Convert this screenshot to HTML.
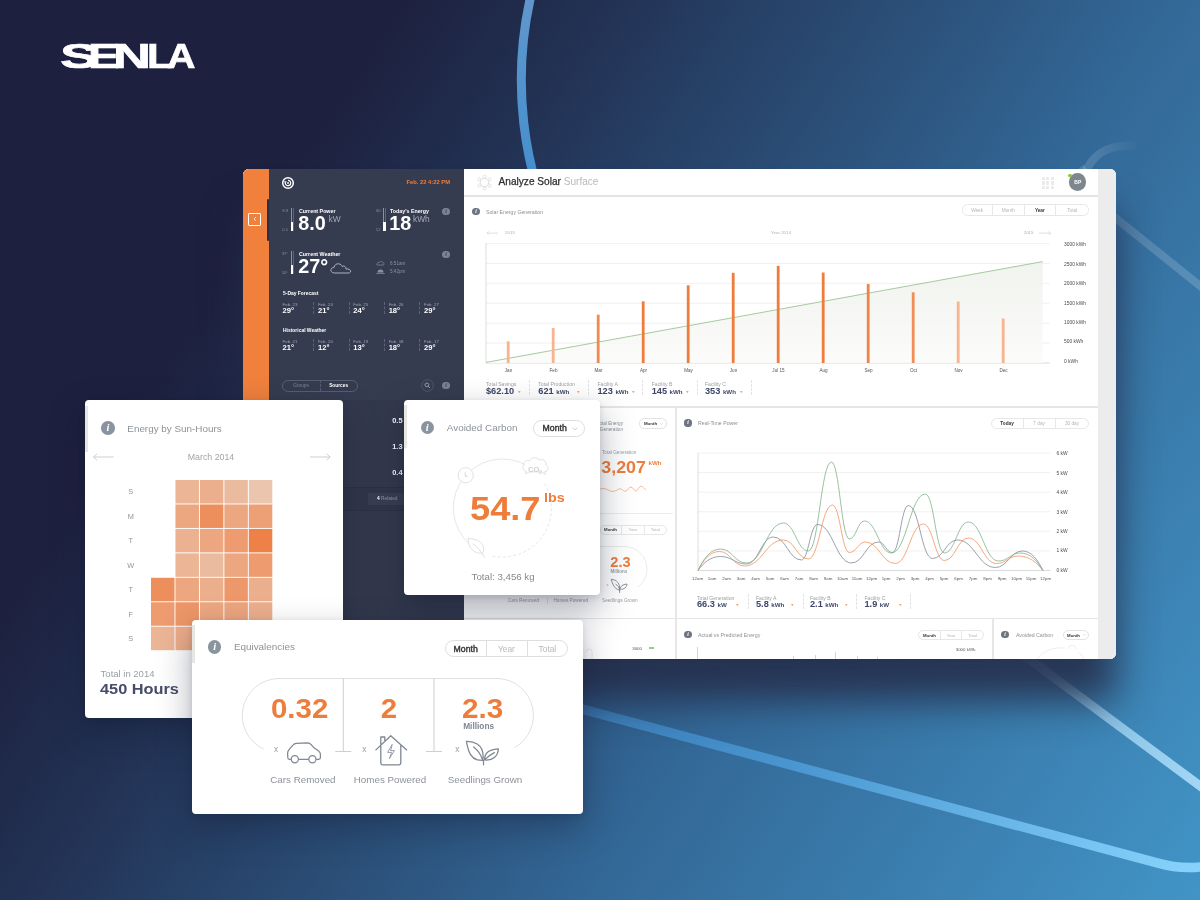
<!DOCTYPE html>
<html lang="en"><head><meta charset="utf-8"><title>SENLA – Analyze Solar Surface</title>
<style>
html,body{margin:0;padding:0;}
body{width:1200px;height:900px;overflow:hidden;font-family:"Liberation Sans", sans-serif;}
#stage{position:relative;width:1200px;height:900px;overflow:hidden;}
.t{position:absolute;white-space:nowrap;display:block;}
.a{position:absolute;}
svg{position:absolute;overflow:visible;}
</style></head><body><div id="stage">
<div class="a" style="left:0;top:0;width:1200px;height:900px;background:linear-gradient(123deg,#1d203e 0%,#1d203e 22%,#223153 33.6%,#336998 66.4%,#4192c4 98%,#4294c6 100%);"></div>
<svg width="1200" height="900" viewBox="0 0 1200 900" style="left:0;top:0">
<defs>
<linearGradient id="gA" gradientUnits="userSpaceOnUse" x1="525" y1="0" x2="532" y2="170"><stop offset="0" stop-color="#5f97cc"/><stop offset="1" stop-color="#468fce"/></linearGradient>
<linearGradient id="gB" gradientUnits="userSpaceOnUse" x1="584" y1="709" x2="1180" y2="868"><stop offset="0" stop-color="#3b7fba"/><stop offset="0.35" stop-color="#4a96d0"/><stop offset="0.7" stop-color="#68b6e8"/><stop offset="1" stop-color="#86d1fb"/></linearGradient>
<linearGradient id="gC" gradientUnits="userSpaceOnUse" x1="1010" y1="650" x2="1200" y2="787"><stop offset="0" stop-color="#a9daf7" stop-opacity="0.25"/><stop offset="0.45" stop-color="#a9daf7" stop-opacity="0.7"/><stop offset="1" stop-color="#a9daf7" stop-opacity="0.95"/></linearGradient>
<linearGradient id="gD" gradientUnits="userSpaceOnUse" x1="1085" y1="150" x2="1200" y2="285"><stop offset="0" stop-color="#ffffff" stop-opacity="0.13"/><stop offset="1" stop-color="#ffffff" stop-opacity="0.17"/></linearGradient>
<linearGradient id="gE" gradientUnits="userSpaceOnUse" x1="1095" y1="150" x2="1140" y2="150"><stop offset="0" stop-color="#ffffff" stop-opacity="0.13"/><stop offset="1" stop-color="#ffffff" stop-opacity="0"/></linearGradient>
</defs>
<path d="M 532.2 -10 A 378 378 0 0 0 561.7 250" fill="none" stroke="url(#gA)" stroke-width="9"/>
<path d="M 500 687.1 L 1158 863.2 Q 1184 870.5 1210 865.5" fill="none" stroke="url(#gB)" stroke-width="9.5"/>
<path d="M 940 592.9 L 1230 808.2" fill="none" stroke="url(#gC)" stroke-width="9"/>
<path d="M 1215 297.8 L 1105 209.6 Q 1066 180 1086 168" fill="none" stroke="url(#gD)" stroke-width="8"/>
<path d="M 1085 174 Q 1093 151 1118 146.5 L 1142 144" fill="none" stroke="url(#gE)" stroke-width="8"/>
</svg>
<div class="a" style="left:0;top:0;width:260px;height:90px;"><span class="t" style="left:60.16px;top:39.0px;font-size:35.6px;line-height:35.6px;font-weight:700;color:#fff;-webkit-text-stroke:0.7px #fff;transform:scaleX(1.6038);transform-origin:0 0;">S</span><span class="t" style="left:87.86px;top:39.0px;font-size:35.6px;line-height:35.6px;font-weight:700;color:#fff;-webkit-text-stroke:0.7px #fff;transform:scaleX(1.3247);transform-origin:0 0;">E</span><span class="t" style="left:112.5px;top:39.0px;font-size:35.6px;line-height:35.6px;font-weight:700;color:#fff;-webkit-text-stroke:0.7px #fff;transform:scaleX(1.4764);transform-origin:0 0;">N</span><span class="t" style="left:146.8px;top:39.0px;font-size:35.6px;line-height:35.6px;font-weight:700;color:#fff;-webkit-text-stroke:0.7px #fff;transform:scaleX(1.1831);transform-origin:0 0;">L</span><span class="t" style="left:167.0px;top:39.0px;font-size:35.6px;line-height:35.6px;font-weight:700;color:#fff;-webkit-text-stroke:0.7px #fff;transform:scaleX(1.1073);transform-origin:0 0;">A</span></div>
<div class="a" style="left:243px;top:169px;width:873px;height:490px;border-radius:6px;background:#fff;box-shadow:0 42px 38px rgba(36,42,70,.86);"></div>
<div id="dash" class="a" style="left:243px;top:169px;width:873px;height:490px;border-radius:6px;overflow:hidden;background:#fff;">
<div style="position:absolute;left:0px;top:0px;width:26px;height:490px;background:#f0803c;"></div>
<div style="position:absolute;left:26px;top:0px;width:195px;height:231px;background:#363c50;"></div>
<div style="position:absolute;left:26px;top:231px;width:195px;height:259px;background:#33394d;"></div>
<div style="position:absolute;left:221px;top:0px;width:634px;height:490px;background:#fff;"></div>
<div style="position:absolute;left:855px;top:0px;width:18px;height:490px;background:#ececec;"></div>
<div style="position:absolute;left:5.2px;top:43.8px;width:13px;height:13px;box-sizing:border-box;border:0.9px solid #fff;border-radius:1px;"></div>
<svg style="left:8.60px;top:47.30px" width="6" height="6" viewBox="0 0 6 6"><path d="M3.8 1 L2 3 L3.8 5" fill="none" stroke="#fff" stroke-width="0.8"/></svg>
<div style="position:absolute;left:23.6px;top:29.5px;width:2.8px;height:42.5px;background:#2b3042;border-radius:1.4px;"></div>
<svg style="left:37.50px;top:7.00px" width="14" height="14" viewBox="0 0 14 14"><circle cx="7" cy="7" r="5.3" fill="none" stroke="#fff" stroke-width="1.5"/><path d="M7 4.3 A2.7 2.7 0 1 1 4.3 7" fill="none" stroke="#fff" stroke-width="1.2"/><path d="M2.6 5.6 L4.4 7.4 L5.8 5.2 Z" fill="#fff"/><circle cx="7" cy="7" r="0.9" fill="#fff"/></svg>
<span class="t" style="left:207.00px;top:11.07px;font-size:5.8px;line-height:5.8px;color:#ee7d3b;font-weight:700;transform:translateX(-100%);">Feb. 22 4:22 PM</span>
<div style="position:absolute;left:47.5px;top:39px;width:1px;height:23px;background:#8b91a1;"></div><div style="position:absolute;left:49.5px;top:39px;width:1px;height:23px;background:#5d6376;"></div><div style="position:absolute;left:47.8px;top:52.5px;width:2.5px;height:9.5px;background:#fff;"></div><span class="t" style="left:45.00px;top:40.05px;font-size:4.2px;line-height:4.2px;color:#8a90a0;transform:translateX(-100%);">9.9</span><span class="t" style="left:45.00px;top:58.85px;font-size:4.2px;line-height:4.2px;color:#8a90a0;transform:translateX(-100%);">0.1</span>
<span class="t" style="left:56.00px;top:39.91px;font-size:5.3px;line-height:5.3px;color:#fff;font-weight:700;">Current Power</span>
<span class="t" style="left:55.30px;top:45.23px;font-size:19.8px;line-height:19.8px;color:#fff;font-weight:700;">8.0</span>
<span class="t" style="left:85.50px;top:46.40px;font-size:8.4px;line-height:8.4px;color:#a4a9b7;">kW</span>
<div style="position:absolute;left:140.0px;top:39px;width:1px;height:23px;background:#8b91a1;"></div><div style="position:absolute;left:142.0px;top:39px;width:1px;height:23px;background:#5d6376;"></div><div style="position:absolute;left:140.3px;top:52.5px;width:2.5px;height:9.5px;background:#fff;"></div><span class="t" style="left:137.50px;top:40.05px;font-size:4.2px;line-height:4.2px;color:#8a90a0;transform:translateX(-100%);">30</span><span class="t" style="left:137.50px;top:58.85px;font-size:4.2px;line-height:4.2px;color:#8a90a0;transform:translateX(-100%);">12</span>
<span class="t" style="left:147.00px;top:39.91px;font-size:5.3px;line-height:5.3px;color:#fff;font-weight:700;">Today's Energy</span>
<span class="t" style="left:146.30px;top:45.23px;font-size:19.8px;line-height:19.8px;color:#fff;font-weight:700;">18</span>
<span class="t" style="left:170.00px;top:46.40px;font-size:8.4px;line-height:8.4px;color:#a4a9b7;">kWh</span>
<div class="a" style="left:199.40px;top:38.80px;width:7.2px;height:7.2px;border-radius:50%;background:#7b8294;color:#363c50;font:italic bold 5.5px/7.2px 'Liberation Serif',serif;text-align:center;">i</div>
<div style="position:absolute;left:47.5px;top:82px;width:1px;height:23px;background:#8b91a1;"></div><div style="position:absolute;left:49.5px;top:82px;width:1px;height:23px;background:#5d6376;"></div><div style="position:absolute;left:47.8px;top:95.5px;width:2.5px;height:9.5px;background:#fff;"></div><span class="t" style="left:45.00px;top:83.05px;font-size:4.2px;line-height:4.2px;color:#8a90a0;transform:translateX(-100%);">37°</span><span class="t" style="left:45.00px;top:101.85px;font-size:4.2px;line-height:4.2px;color:#8a90a0;transform:translateX(-100%);">10°</span>
<span class="t" style="left:56.00px;top:83.01px;font-size:5.3px;line-height:5.3px;color:#fff;font-weight:700;">Current Weather</span>
<span class="t" style="left:55.30px;top:88.23px;font-size:19.8px;line-height:19.8px;color:#fff;font-weight:700;">27°</span>
<svg style="left:86.00px;top:91.00px" width="24" height="15" viewBox="0 0 24 15"><path d="M5.5 13 C2.5 13 1.5 10.8 2 9.5 C2.4 8 4 7.4 5 7.6 C5.2 5 7.5 3.5 9.6 3.8 C11.8 4 12.8 5.4 13.2 6.4 C14.2 5.9 15.6 6 16.3 6.8 C17 7.6 17 8.4 16.8 9 C19.5 8.6 21.6 9.6 21.6 11.2 C21.6 12.6 20.2 13 19 13 Z" fill="none" stroke="#b9bdc9" stroke-width="0.9" stroke-linejoin="round"/></svg>
<svg style="left:132.50px;top:91.00px" width="9" height="6" viewBox="0 0 9 6"><path d="M1.5 5 C0.6 5 0.4 3.9 1.3 3.6 C1.4 2.4 2.8 1.8 3.7 2.4 C4.4 1 6.6 1.2 6.9 2.8 C8.2 2.8 8.5 5 7.2 5 Z" fill="none" stroke="#8a90a0" stroke-width="0.7"/></svg>
<svg style="left:132.50px;top:99.00px" width="9" height="6" viewBox="0 0 9 6"><path d="M1.5 4.6 A3 3 0 0 1 7.5 4.6 Z" fill="#8a90a0"/><path d="M0.3 5.5 H8.7" stroke="#8a90a0" stroke-width="0.7"/></svg>
<span class="t" style="left:147.00px;top:92.85px;font-size:4.6px;line-height:4.6px;color:#8a90a0;">6:51am</span>
<span class="t" style="left:147.00px;top:100.85px;font-size:4.6px;line-height:4.6px;color:#8a90a0;">5:42pm</span>
<div class="a" style="left:199.40px;top:81.90px;width:7.2px;height:7.2px;border-radius:50%;background:#7b8294;color:#363c50;font:italic bold 5.5px/7.2px 'Liberation Serif',serif;text-align:center;">i</div>
<span class="t" style="left:40.00px;top:122.68px;font-size:4.95px;line-height:4.95px;color:#fff;font-weight:700;">5-Day Forecast</span><span class="t" style="left:39.60px;top:134.05px;font-size:4.4px;line-height:4.4px;color:#9da2b1;">Feb. 23</span><span class="t" style="left:39.60px;top:138.29px;font-size:7.6px;line-height:7.6px;color:#fff;font-weight:700;">29°</span><span class="t" style="left:74.95px;top:134.05px;font-size:4.4px;line-height:4.4px;color:#9da2b1;">Feb. 24</span><span class="t" style="left:74.95px;top:138.29px;font-size:7.6px;line-height:7.6px;color:#fff;font-weight:700;">21°</span><div style="position:absolute;left:70.35px;top:132.8px;width:0px;height:12px;border-left:1px dashed #5d6376;"></div><span class="t" style="left:110.30px;top:134.05px;font-size:4.4px;line-height:4.4px;color:#9da2b1;">Feb. 25</span><span class="t" style="left:110.30px;top:138.29px;font-size:7.6px;line-height:7.6px;color:#fff;font-weight:700;">24°</span><div style="position:absolute;left:105.7px;top:132.8px;width:0px;height:12px;border-left:1px dashed #5d6376;"></div><span class="t" style="left:145.65px;top:134.05px;font-size:4.4px;line-height:4.4px;color:#9da2b1;">Feb. 26</span><span class="t" style="left:145.65px;top:138.29px;font-size:7.6px;line-height:7.6px;color:#fff;font-weight:700;">18°</span><div style="position:absolute;left:141.05px;top:132.8px;width:0px;height:12px;border-left:1px dashed #5d6376;"></div><span class="t" style="left:181.00px;top:134.05px;font-size:4.4px;line-height:4.4px;color:#9da2b1;">Feb. 27</span><span class="t" style="left:181.00px;top:138.29px;font-size:7.6px;line-height:7.6px;color:#fff;font-weight:700;">29°</span><div style="position:absolute;left:176.4px;top:132.8px;width:0px;height:12px;border-left:1px dashed #5d6376;"></div>
<span class="t" style="left:40.00px;top:159.68px;font-size:4.95px;line-height:4.95px;color:#fff;font-weight:700;">Historical Weather</span><span class="t" style="left:39.60px;top:170.75px;font-size:4.4px;line-height:4.4px;color:#9da2b1;">Feb. 21</span><span class="t" style="left:39.60px;top:174.99px;font-size:7.6px;line-height:7.6px;color:#fff;font-weight:700;">21°</span><span class="t" style="left:74.95px;top:170.75px;font-size:4.4px;line-height:4.4px;color:#9da2b1;">Feb. 20</span><span class="t" style="left:74.95px;top:174.99px;font-size:7.6px;line-height:7.6px;color:#fff;font-weight:700;">12°</span><div style="position:absolute;left:70.35px;top:169.5px;width:0px;height:12px;border-left:1px dashed #5d6376;"></div><span class="t" style="left:110.30px;top:170.75px;font-size:4.4px;line-height:4.4px;color:#9da2b1;">Feb. 19</span><span class="t" style="left:110.30px;top:174.99px;font-size:7.6px;line-height:7.6px;color:#fff;font-weight:700;">13°</span><div style="position:absolute;left:105.7px;top:169.5px;width:0px;height:12px;border-left:1px dashed #5d6376;"></div><span class="t" style="left:145.65px;top:170.75px;font-size:4.4px;line-height:4.4px;color:#9da2b1;">Feb. 18</span><span class="t" style="left:145.65px;top:174.99px;font-size:7.6px;line-height:7.6px;color:#fff;font-weight:700;">18°</span><div style="position:absolute;left:141.05px;top:169.5px;width:0px;height:12px;border-left:1px dashed #5d6376;"></div><span class="t" style="left:181.00px;top:170.75px;font-size:4.4px;line-height:4.4px;color:#9da2b1;">Feb. 17</span><span class="t" style="left:181.00px;top:174.99px;font-size:7.6px;line-height:7.6px;color:#fff;font-weight:700;">29°</span><div style="position:absolute;left:176.4px;top:169.5px;width:0px;height:12px;border-left:1px dashed #5d6376;"></div>
<div style="position:absolute;left:39px;top:210.7px;width:76px;height:12px;box-sizing:border-box;border:1px solid #575d72;border-radius:6px;"></div>
<div style="position:absolute;left:76.5px;top:211px;width:0px;height:11.4px;border-left:1px dashed #575d72;"></div>
<span class="t" style="left:58.00px;top:215.36px;font-size:4.8px;line-height:4.8px;color:#7e8496;transform:translateX(-50%);">Groups</span>
<span class="t" style="left:95.60px;top:215.36px;font-size:4.8px;line-height:4.8px;color:#fff;font-weight:700;transform:translateX(-50%);">Sources</span>
<svg style="left:177.50px;top:210.00px" width="13" height="13" viewBox="0 0 13 13"><circle cx="6.5" cy="6.5" r="5.8" fill="none" stroke="#545a6e" stroke-width="0.9"/><circle cx="5.9" cy="5.9" r="1.9" fill="none" stroke="#a9aebb" stroke-width="0.8"/><path d="M7.3 7.3 L9 9" stroke="#a9aebb" stroke-width="0.9"/></svg>
<div class="a" style="left:199.40px;top:212.80px;width:7.2px;height:7.2px;border-radius:50%;background:#7b8294;color:#363c50;font:italic bold 5.5px/7.2px 'Liberation Serif',serif;text-align:center;">i</div>
<span class="t" style="left:159.50px;top:247.79px;font-size:7.4px;line-height:7.4px;color:#fff;font-weight:700;transform:translateX(-100%);">0.5</span>
<span class="t" style="left:161.00px;top:250.10px;font-size:4.5px;line-height:4.5px;color:#8a90a0;">kW</span>
<span class="t" style="left:159.50px;top:273.89px;font-size:7.4px;line-height:7.4px;color:#fff;font-weight:700;transform:translateX(-100%);">1.3</span>
<span class="t" style="left:161.00px;top:276.20px;font-size:4.5px;line-height:4.5px;color:#8a90a0;">kW</span>
<span class="t" style="left:159.50px;top:299.69px;font-size:7.4px;line-height:7.4px;color:#fff;font-weight:700;transform:translateX(-100%);">0.4</span>
<span class="t" style="left:161.00px;top:302.00px;font-size:4.5px;line-height:4.5px;color:#8a90a0;">kW</span>
<div style="position:absolute;left:26px;top:317.5px;width:195px;height:1px;background:#2c3144;"></div>
<div style="position:absolute;left:26px;top:341px;width:195px;height:1px;background:#2c3144;"></div>
<div style="position:absolute;left:26px;top:318.5px;width:195px;height:22.5px;background:#30364a;"></div>
<div style="position:absolute;left:125px;top:323.6px;width:60px;height:12px;background:#383e53;border-radius:1px;"></div>
<span class="t" style="left:134.00px;top:328.26px;font-size:4.8px;line-height:4.8px;color:#9096a6;"><b style="color:#fff">4</b> Related</span>
<svg style="left:233.50px;top:5.50px" width="15" height="15" viewBox="0 0 15 15"><circle cx="7.5" cy="7.5" r="4.2" fill="none" stroke="#dcdcdc" stroke-width="0.9"/><circle cx="12.70" cy="10.50" r="1.5" fill="#fff" stroke="#dcdcdc" stroke-width="0.8"/><circle cx="7.50" cy="13.50" r="1.5" fill="#fff" stroke="#dcdcdc" stroke-width="0.8"/><circle cx="2.30" cy="10.50" r="1.5" fill="#fff" stroke="#dcdcdc" stroke-width="0.8"/><circle cx="2.30" cy="4.50" r="1.5" fill="#fff" stroke="#dcdcdc" stroke-width="0.8"/><circle cx="7.50" cy="1.50" r="1.5" fill="#fff" stroke="#dcdcdc" stroke-width="0.8"/><circle cx="12.70" cy="4.50" r="1.5" fill="#fff" stroke="#dcdcdc" stroke-width="0.8"/></svg>
<span class="t" style="left:255.60px;top:8.37px;font-size:10.1px;line-height:10.1px;color:#2e2e2e;"><span style="color:#2e2e2e;-webkit-text-stroke:0.25px #2e2e2e">Analyze Solar</span> <span style="color:#b9b9b9">Surface</span></span>
<div style="position:absolute;left:798.6px;top:7.8px;width:3.2px;height:3.2px;background:#ebebeb;border-radius:0.6px;"></div><div style="position:absolute;left:803.2px;top:7.8px;width:3.2px;height:3.2px;background:#ebebeb;border-radius:0.6px;"></div><div style="position:absolute;left:807.8px;top:7.8px;width:3.2px;height:3.2px;background:#ebebeb;border-radius:0.6px;"></div><div style="position:absolute;left:798.6px;top:12.4px;width:3.2px;height:3.2px;background:#ebebeb;border-radius:0.6px;"></div><div style="position:absolute;left:803.2px;top:12.4px;width:3.2px;height:3.2px;background:#ebebeb;border-radius:0.6px;"></div><div style="position:absolute;left:807.8px;top:12.4px;width:3.2px;height:3.2px;background:#ebebeb;border-radius:0.6px;"></div><div style="position:absolute;left:798.6px;top:17.0px;width:3.2px;height:3.2px;background:#ebebeb;border-radius:0.6px;"></div><div style="position:absolute;left:803.2px;top:17.0px;width:3.2px;height:3.2px;background:#ebebeb;border-radius:0.6px;"></div><div style="position:absolute;left:807.8px;top:17.0px;width:3.2px;height:3.2px;background:#ebebeb;border-radius:0.6px;"></div>
<div style="position:absolute;left:826px;top:4.2px;width:17.4px;height:17.4px;border-radius:50%;background:#7d878d;"></div>
<span class="t" style="left:834.80px;top:11.46px;font-size:5px;line-height:5px;color:#fff;font-weight:700;transform:translateX(-50%);">BP</span>
<div style="position:absolute;left:825.4px;top:4.6px;width:3.2px;height:3.2px;border-radius:50%;background:#8dc63f;"></div>
<div style="position:absolute;left:221px;top:26.3px;width:634px;height:1.6px;background:#e4e4e4;"></div>
<div class="a" style="left:229.40px;top:39.00px;width:7.2px;height:7.2px;border-radius:50%;background:#6d7482;color:#fff;font:italic bold 5.5px/7.2px 'Liberation Serif',serif;text-align:center;">i</div>
<span class="t" style="left:243.00px;top:41.06px;font-size:5.2px;line-height:5.2px;color:#8b8f96;">Solar Energy Generation</span>
<div style="position:absolute;left:719px;top:35.3px;width:127px;height:11.5px;box-sizing:border-box;border:1px solid #e7e7e7;border-radius:5.75px;background:#fff;"></div><div style="position:absolute;left:748.7px;top:35.8px;width:1px;height:10.5px;background:#e7e7e7;"></div><div style="position:absolute;left:780.9px;top:35.8px;width:1px;height:10.5px;background:#e7e7e7;"></div><div style="position:absolute;left:811.8px;top:35.8px;width:1px;height:10.5px;background:#e7e7e7;"></div><span class="t" style="left:734.10px;top:39.75px;font-size:4.7px;line-height:4.7px;color:#b5b5b5;transform:translateX(-50%);">Week</span><span class="t" style="left:765.30px;top:39.75px;font-size:4.7px;line-height:4.7px;color:#b5b5b5;transform:translateX(-50%);">Month</span><span class="t" style="left:796.85px;top:39.75px;font-size:4.7px;line-height:4.7px;color:#333;font-weight:700;transform:translateX(-50%);">Year</span><span class="t" style="left:829.15px;top:39.75px;font-size:4.7px;line-height:4.7px;color:#b5b5b5;transform:translateX(-50%);">Total</span>
<svg style="left:243.50px;top:61.50px" width="11.0" height="4.2" viewBox="0 0 11.0 4.2"><path d="M0 2.1 H11.0 M1.6 0.5 L0 2.1 L1.6 3.7" fill="none" stroke="#cfcfcf" stroke-width="0.7"/></svg>
<span class="t" style="left:262.00px;top:62.45px;font-size:4.4px;line-height:4.4px;color:#b0b0b0;">2013</span>
<span class="t" style="left:538.00px;top:62.45px;font-size:4.4px;line-height:4.4px;color:#b0b0b0;transform:translateX(-50%);">Year 2014</span>
<span class="t" style="left:790.50px;top:62.45px;font-size:4.4px;line-height:4.4px;color:#b0b0b0;transform:translateX(-100%);">2015</span>
<svg style="left:795.50px;top:61.50px" width="11.5" height="4.2" viewBox="0 0 11.5 4.2"><path d="M0 2.1 H11.5 M9.9 0.5 L11.5 2.1 L9.9 3.7" fill="none" stroke="#cfcfcf" stroke-width="0.7"/></svg>
<svg style="left:243.30px;top:74.00px" width="563.7" height="121" viewBox="0 0 563.7 121"><path d="M0 0.60 H563.7" stroke="#ededed" stroke-width="0.8"/><path d="M0 20.50 H563.7" stroke="#ededed" stroke-width="0.8"/><path d="M0 40.40 H563.7" stroke="#ededed" stroke-width="0.8"/><path d="M0 60.30 H563.7" stroke="#ededed" stroke-width="0.8"/><path d="M0 80.20 H563.7" stroke="#ededed" stroke-width="0.8"/><path d="M0 100.10 H563.7" stroke="#ededed" stroke-width="0.8"/><path d="M0 120.00 H563.7" stroke="#cfcfcf" stroke-width="0.8"/><path d="M0 0 V120.0" stroke="#d4d4d4" stroke-width="0.8"/><defs><linearGradient id="gfill" x1="0" y1="0" x2="0" y2="1"><stop offset="0" stop-color="#eef1eb"/><stop offset="1" stop-color="#fbfbfa"/></linearGradient></defs><path d="M0 119.4 L556.7 18.6 V120.0 H0 Z" fill="url(#gfill)" fill-opacity="0.85"/><path d="M0 119.4 L556.7 18.6" stroke="#8fbe84" stroke-width="0.8" fill="none"/><rect x="20.80" y="98.30" width="2.8" height="21.70" fill="#f7b48f"/><rect x="65.80" y="85.00" width="2.8" height="35.00" fill="#f7b48f"/><rect x="110.80" y="71.70" width="2.8" height="48.30" fill="#f08a4f"/><rect x="155.80" y="58.30" width="2.8" height="61.70" fill="#ee7d3b"/><rect x="200.80" y="42.30" width="2.8" height="77.70" fill="#ee7d3b"/><rect x="245.80" y="29.80" width="2.8" height="90.20" fill="#ee7d3b"/><rect x="290.80" y="22.90" width="2.8" height="97.10" fill="#ee7d3b"/><rect x="335.80" y="29.50" width="2.8" height="90.50" fill="#ee7d3b"/><rect x="380.80" y="41.00" width="2.8" height="79.00" fill="#ef8446"/><rect x="425.80" y="49.30" width="2.8" height="70.70" fill="#f08e55"/><rect x="470.80" y="58.50" width="2.8" height="61.50" fill="#f7b48f"/><rect x="515.80" y="75.50" width="2.8" height="44.50" fill="#f7b48f"/></svg>
<span class="t" style="left:821.00px;top:74.31px;font-size:4.9px;line-height:4.9px;color:#4a4a4a;">3000 kWh</span>
<span class="t" style="left:821.00px;top:93.71px;font-size:4.9px;line-height:4.9px;color:#4a4a4a;">2500 kWh</span>
<span class="t" style="left:821.00px;top:113.11px;font-size:4.9px;line-height:4.9px;color:#4a4a4a;">2000 kWh</span>
<span class="t" style="left:821.00px;top:132.51px;font-size:4.9px;line-height:4.9px;color:#4a4a4a;">1500 kWh</span>
<span class="t" style="left:821.00px;top:151.91px;font-size:4.9px;line-height:4.9px;color:#4a4a4a;">1000 kWh</span>
<span class="t" style="left:821.00px;top:171.31px;font-size:4.9px;line-height:4.9px;color:#4a4a4a;">500 kWh</span>
<span class="t" style="left:821.00px;top:190.71px;font-size:4.9px;line-height:4.9px;color:#4a4a4a;">0 kWh</span>
<span class="t" style="left:265.50px;top:199.85px;font-size:4.6px;line-height:4.6px;color:#555;transform:translateX(-50%);">Jan</span>
<span class="t" style="left:310.50px;top:199.85px;font-size:4.6px;line-height:4.6px;color:#555;transform:translateX(-50%);">Feb</span>
<span class="t" style="left:355.50px;top:199.85px;font-size:4.6px;line-height:4.6px;color:#555;transform:translateX(-50%);">Mar</span>
<span class="t" style="left:400.50px;top:199.85px;font-size:4.6px;line-height:4.6px;color:#555;transform:translateX(-50%);">Apr</span>
<span class="t" style="left:445.50px;top:199.85px;font-size:4.6px;line-height:4.6px;color:#555;transform:translateX(-50%);">May</span>
<span class="t" style="left:490.50px;top:199.85px;font-size:4.6px;line-height:4.6px;color:#555;transform:translateX(-50%);">Jun</span>
<span class="t" style="left:535.50px;top:199.85px;font-size:4.6px;line-height:4.6px;color:#555;transform:translateX(-50%);">Jul 15</span>
<span class="t" style="left:580.50px;top:199.85px;font-size:4.6px;line-height:4.6px;color:#555;transform:translateX(-50%);">Aug</span>
<span class="t" style="left:625.50px;top:199.85px;font-size:4.6px;line-height:4.6px;color:#555;transform:translateX(-50%);">Sep</span>
<span class="t" style="left:670.50px;top:199.85px;font-size:4.6px;line-height:4.6px;color:#555;transform:translateX(-50%);">Oct</span>
<span class="t" style="left:715.50px;top:199.85px;font-size:4.6px;line-height:4.6px;color:#555;transform:translateX(-50%);">Nov</span>
<span class="t" style="left:760.50px;top:199.85px;font-size:4.6px;line-height:4.6px;color:#555;transform:translateX(-50%);">Dec</span>
<span class="t" style="left:243.00px;top:213.21px;font-size:5.1px;line-height:5.1px;color:#9a9ea6;">Total Savings</span><span class="t" style="left:243.00px;top:218.11px;font-size:9.2px;line-height:9.2px;color:#3f4667;font-weight:700;">$62.10</span><svg style="left:275.40px;top:222.20px" width="2.6" height="2.6" viewBox="0 0 2.6 2.6"><path d="M0 0 H2.6 L1.3 2.2 Z" fill="#f4a26f"/></svg><div style="position:absolute;left:286px;top:211.3px;width:0px;height:15px;border-left:1px dashed #e3e3e3;"></div>
<span class="t" style="left:295.30px;top:213.21px;font-size:5.1px;line-height:5.1px;color:#9a9ea6;">Total Production</span><span class="t" style="left:295.30px;top:218.11px;font-size:9.2px;line-height:9.2px;color:#3f4667;font-weight:700;">621 <span style="font-size:6.2px">kWh</span></span><svg style="left:333.70px;top:222.20px" width="2.6" height="2.6" viewBox="0 0 2.6 2.6"><path d="M0 0 H2.6 L1.3 2.2 Z" fill="#f4a26f"/></svg><div style="position:absolute;left:345px;top:211.3px;width:0px;height:15px;border-left:1px dashed #e3e3e3;"></div>
<span class="t" style="left:354.50px;top:213.21px;font-size:5.1px;line-height:5.1px;color:#9a9ea6;">Facility A</span><span class="t" style="left:354.50px;top:218.11px;font-size:9.2px;line-height:9.2px;color:#3f4667;font-weight:700;">123 <span style="font-size:6.2px">kWh</span></span><svg style="left:388.70px;top:222.20px" width="2.6" height="2.6" viewBox="0 0 2.6 2.6"><path d="M0 0 H2.6 L1.3 2.2 Z" fill="#f4a26f"/></svg><div style="position:absolute;left:399px;top:211.3px;width:0px;height:15px;border-left:1px dashed #e3e3e3;"></div>
<span class="t" style="left:408.70px;top:213.21px;font-size:5.1px;line-height:5.1px;color:#9a9ea6;">Facility B</span><span class="t" style="left:408.70px;top:218.11px;font-size:9.2px;line-height:9.2px;color:#3f4667;font-weight:700;">145 <span style="font-size:6.2px">kWh</span></span><svg style="left:442.70px;top:222.20px" width="2.6" height="2.6" viewBox="0 0 2.6 2.6"><path d="M0 0 H2.6 L1.3 2.2 Z" fill="#f4a26f"/></svg><div style="position:absolute;left:454px;top:211.3px;width:0px;height:15px;border-left:1px dashed #e3e3e3;"></div>
<span class="t" style="left:462.00px;top:213.21px;font-size:5.1px;line-height:5.1px;color:#9a9ea6;">Facility C</span><span class="t" style="left:462.00px;top:218.11px;font-size:9.2px;line-height:9.2px;color:#3f4667;font-weight:700;">353 <span style="font-size:6.2px">kWh</span></span><svg style="left:496.70px;top:222.20px" width="2.6" height="2.6" viewBox="0 0 2.6 2.6"><path d="M0 0 H2.6 L1.3 2.2 Z" fill="#f4a26f"/></svg><div style="position:absolute;left:508px;top:211.3px;width:0px;height:15px;border-left:1px dashed #e3e3e3;"></div>
<div style="position:absolute;left:221px;top:237.3px;width:634px;height:1.6px;background:#e6e6e6;"></div>
<div style="position:absolute;left:432.2px;top:239px;width:1.6px;height:251px;background:#e6e6e6;"></div>
<div style="position:absolute;left:221px;top:448.6px;width:634px;height:1.6px;background:#e6e6e6;"></div>
<div style="position:absolute;left:749.2px;top:450px;width:1.6px;height:40px;background:#e6e6e6;"></div>
<div class="a" style="left:229.40px;top:251.40px;width:7.2px;height:7.2px;border-radius:50%;background:#6d7482;color:#fff;font:italic bold 5.5px/7.2px 'Liberation Serif',serif;text-align:center;">i</div>
<span class="t" style="left:380.00px;top:252.80px;font-size:4.7px;line-height:4.7px;color:#8b8f96;transform:translateX(-100%);">Total Energy</span>
<span class="t" style="left:380.00px;top:258.90px;font-size:4.7px;line-height:4.7px;color:#8b8f96;transform:translateX(-100%);">Generation</span>
<div style="position:absolute;left:396px;top:249.4px;width:27.5px;height:10.2px;box-sizing:border-box;border:1px solid #e2e2e2;border-radius:5.1px;"></div>
<span class="t" style="left:407.50px;top:253.35px;font-size:4.4px;line-height:4.4px;color:#333;font-weight:700;transform:translateX(-50%);">Month</span>
<svg style="left:416.50px;top:253.60px" width="3" height="2" viewBox="0 0 3 2"><path d="M0.3 0.3 L1.5 1.5 L2.7 0.3" fill="none" stroke="#bbb" stroke-width="0.5"/></svg>
<span class="t" style="left:359.00px;top:281.80px;font-size:4.7px;line-height:4.7px;color:#9a9ea6;">Total Generation</span>
<span class="t" style="left:402.80px;top:289.69px;font-size:16.4px;line-height:16.4px;color:#ee7d3b;font-weight:700;transform:translateX(-100%) scaleX(1.09);transform-origin:100% 50%;">3,207</span>
<span class="t" style="left:405.50px;top:291.17px;font-size:6.2px;line-height:6.2px;color:#ee7d3b;font-weight:700;">kWh</span>
<svg style="left:317.00px;top:313.00px" width="88" height="12" viewBox="0 0 88 12"><path d="M0 5 C6 3 10 8 16 6 S26 2 32 6 S40 5 46 7 C50 9 52 10 55 9 C58 8 59 6 61 7 C63 8 64 10 66 9 C68 8 69 5 71 5 C73 5 74 9 76 9 C78 9 79 4 81 4 C83 4 84 7 86 8" fill="none" stroke="#f3a27a" stroke-width="0.7"/></svg>
<div style="position:absolute;left:237px;top:344px;width:193px;height:1.2px;background:#ececec;"></div>
<div style="position:absolute;left:356.5px;top:355.5px;width:67px;height:10px;box-sizing:border-box;border:1px solid #e7e7e7;border-radius:5.0px;background:#fff;"></div><div style="position:absolute;left:378.0px;top:356.0px;width:1px;height:9px;background:#e7e7e7;"></div><div style="position:absolute;left:400.5px;top:356.0px;width:1px;height:9px;background:#e7e7e7;"></div><span class="t" style="left:367.50px;top:359.40px;font-size:4.3px;line-height:4.3px;color:#333;font-weight:700;transform:translateX(-50%);">Month</span><span class="t" style="left:389.75px;top:359.40px;font-size:4.3px;line-height:4.3px;color:#b5b5b5;transform:translateX(-50%);">Year</span><span class="t" style="left:412.25px;top:359.40px;font-size:4.3px;line-height:4.3px;color:#b5b5b5;transform:translateX(-50%);">Total</span>
<svg style="left:227.00px;top:377.00px" width="180" height="46" viewBox="0 0 180 46"><path d="M22 0.5 H156 A22.5 22.5 0 0 1 168 41" fill="none" stroke="#e6e6e6" stroke-width="0.8"/><path d="M22 0.5 A22.5 22.5 0 0 0 10 41" fill="none" stroke="#e6e6e6" stroke-width="0.8"/></svg>
<span class="t" style="left:367.30px;top:386.27px;font-size:14.6px;line-height:14.6px;color:#ee7d3b;font-weight:700;">2.3</span>
<span class="t" style="left:367.60px;top:401.10px;font-size:4.5px;line-height:4.5px;color:#9a9ea6;font-weight:700;">Millions</span>
<span class="t" style="left:363.50px;top:414.45px;font-size:4px;line-height:4px;color:#aaa;">x</span>
<svg style="left:366.50px;top:408.50px" width="18" height="15" viewBox="0 0 18 15"><path d="M9.6 12 C9.3 9.5 8 7.5 5.8 6.2 M9.6 12 C6 11.6 3.2 9 1.2 1.2 C7 2 10.2 5.2 9.6 12 Z M9.8 11 C10.4 8.2 12.6 6.4 17 6 C16.6 9.6 14 11.6 10.4 11.2 M9.6 12 V14.5" fill="none" stroke="#7f8791" stroke-width="0.9" stroke-linejoin="round" stroke-linecap="round"/></svg>
<span class="t" style="left:359.00px;top:430.20px;font-size:4.7px;line-height:4.7px;color:#9a9ea6;">Seedlings Grown</span>
<span class="t" style="left:280.50px;top:430.20px;font-size:4.7px;line-height:4.7px;color:#9a9ea6;transform:translateX(-50%);">Cars Removed</span>
<div style="position:absolute;left:303.5px;top:428.6px;width:0px;height:6px;border-left:1px solid #e6e6e6;"></div>
<span class="t" style="left:327.80px;top:430.20px;font-size:4.7px;line-height:4.7px;color:#9a9ea6;transform:translateX(-50%);">Homes Powered</span>
<div class="a" style="left:441.40px;top:250.40px;width:7.2px;height:7.2px;border-radius:50%;background:#6d7482;color:#fff;font:italic bold 5.5px/7.2px 'Liberation Serif',serif;text-align:center;">i</div>
<span class="t" style="left:455.00px;top:252.46px;font-size:5.2px;line-height:5.2px;color:#8b8f96;">Real-Time Power</span>
<div style="position:absolute;left:748px;top:248.6px;width:98px;height:11.7px;box-sizing:border-box;border:1px solid #e7e7e7;border-radius:5.85px;background:#fff;"></div><div style="position:absolute;left:779.7px;top:249.1px;width:1px;height:10.7px;background:#e7e7e7;"></div><div style="position:absolute;left:811.5px;top:249.1px;width:1px;height:10.7px;background:#e7e7e7;"></div><span class="t" style="left:764.10px;top:253.15px;font-size:4.7px;line-height:4.7px;color:#333;font-weight:700;transform:translateX(-50%);">Today</span><span class="t" style="left:796.10px;top:253.15px;font-size:4.7px;line-height:4.7px;color:#b5b5b5;transform:translateX(-50%);">7 day</span><span class="t" style="left:829.00px;top:253.15px;font-size:4.7px;line-height:4.7px;color:#b5b5b5;transform:translateX(-50%);">30 day</span>
<svg style="left:454.60px;top:283.00px" width="352.4" height="120" viewBox="0 0 352.4 120"><path d="M0 1.00 H352.4" stroke="#ededed" stroke-width="0.8"/><path d="M0 20.58 H352.4" stroke="#ededed" stroke-width="0.8"/><path d="M0 40.17 H352.4" stroke="#ededed" stroke-width="0.8"/><path d="M0 59.75 H352.4" stroke="#ededed" stroke-width="0.8"/><path d="M0 79.33 H352.4" stroke="#ededed" stroke-width="0.8"/><path d="M0 98.92 H352.4" stroke="#ededed" stroke-width="0.8"/><path d="M0 118.50 H352.4" stroke="#cfcfcf" stroke-width="0.8"/><path d="M0 1 V118.5" stroke="#d4d4d4" stroke-width="0.8"/><path d="M0.00 118.50 C5.60 110.80 12.32 104.50 22.40 104.50 C34.10 104.50 36.70 112.00 48.40 112.00 C60.55 112.00 63.25 85.00 75.40 85.00 C88.00 85.00 90.80 108.00 103.40 108.00 C110.60 108.00 112.20 72.50 119.40 72.50 C134.70 72.50 138.10 111.00 153.40 111.00 C165.55 111.00 168.25 90.00 180.40 90.00 C186.70 90.00 188.10 100.50 194.40 100.50 C201.60 100.50 203.20 53.50 210.40 53.50 C221.20 53.50 223.60 106.50 234.40 106.50 C245.65 106.50 248.15 88.00 259.40 88.00 C276.50 88.00 280.30 115.50 297.40 115.50 C309.55 115.50 312.25 99.00 324.40 99.00 C333.62 99.00 339.77 107.77 344.90 118.50" fill="none" stroke="#7d8a99" stroke-width="0.8"/><path d="M0.00 118.50 C5.35 108.05 11.77 99.50 21.40 99.50 C32.65 99.50 35.15 114.00 46.40 114.00 C63.95 114.00 67.85 88.00 85.40 88.00 C96.65 88.00 99.15 107.00 110.40 107.00 C121.20 107.00 123.60 53.00 134.40 53.00 C142.05 53.00 143.75 100.50 151.40 100.50 C158.60 100.50 160.20 90.00 167.40 90.00 C180.90 90.00 183.90 111.50 197.40 111.50 C210.00 111.50 212.80 72.00 225.40 72.00 C234.85 72.00 236.95 108.50 246.40 108.50 C257.20 108.50 259.60 86.00 270.40 86.00 C283.00 86.00 285.80 111.50 298.40 111.50 C308.30 111.50 310.50 104.00 320.40 104.00 C331.43 104.00 338.77 110.52 344.90 118.50" fill="none" stroke="#f2935d" stroke-width="0.8"/><path d="M0.00 118.50 C5.60 106.67 12.32 97.00 22.40 97.00 C34.10 97.00 36.70 111.00 48.40 111.00 C65.05 111.00 68.75 71.00 85.40 71.00 C96.65 71.00 99.15 99.00 110.40 99.00 C120.75 99.00 123.05 10.00 133.40 10.00 C141.50 10.00 143.30 87.00 151.40 87.00 C158.15 87.00 159.65 69.00 166.40 69.00 C178.55 69.00 181.25 101.00 193.40 101.00 C208.70 101.00 212.10 42.00 227.40 42.00 C235.95 42.00 237.85 101.00 246.40 101.00 C257.20 101.00 259.60 70.00 270.40 70.00 C283.90 70.00 286.90 109.00 300.40 109.00 C310.30 109.00 312.50 101.00 322.40 101.00 C332.52 101.00 339.27 108.88 344.90 118.50" fill="none" stroke="#7fb28a" stroke-width="0.8"/></svg>
<span class="t" style="left:813.50px;top:283.31px;font-size:4.9px;line-height:4.9px;color:#4a4a4a;">6 kW</span>
<span class="t" style="left:813.50px;top:302.71px;font-size:4.9px;line-height:4.9px;color:#4a4a4a;">5 kW</span>
<span class="t" style="left:813.50px;top:322.11px;font-size:4.9px;line-height:4.9px;color:#4a4a4a;">4 kW</span>
<span class="t" style="left:813.50px;top:341.51px;font-size:4.9px;line-height:4.9px;color:#4a4a4a;">3 kW</span>
<span class="t" style="left:813.50px;top:360.91px;font-size:4.9px;line-height:4.9px;color:#4a4a4a;">2 kW</span>
<span class="t" style="left:813.50px;top:380.31px;font-size:4.9px;line-height:4.9px;color:#4a4a4a;">1 kW</span>
<span class="t" style="left:813.50px;top:399.71px;font-size:4.9px;line-height:4.9px;color:#4a4a4a;">0 kW</span>
<span class="t" style="left:454.60px;top:407.95px;font-size:4.4px;line-height:4.4px;color:#555;transform:translateX(-50%);">12am</span>
<span class="t" style="left:469.10px;top:407.95px;font-size:4.4px;line-height:4.4px;color:#555;transform:translateX(-50%);">1am</span>
<span class="t" style="left:483.60px;top:407.95px;font-size:4.4px;line-height:4.4px;color:#555;transform:translateX(-50%);">2am</span>
<span class="t" style="left:498.10px;top:407.95px;font-size:4.4px;line-height:4.4px;color:#555;transform:translateX(-50%);">3am</span>
<span class="t" style="left:512.60px;top:407.95px;font-size:4.4px;line-height:4.4px;color:#555;transform:translateX(-50%);">4am</span>
<span class="t" style="left:527.10px;top:407.95px;font-size:4.4px;line-height:4.4px;color:#555;transform:translateX(-50%);">5am</span>
<span class="t" style="left:541.60px;top:407.95px;font-size:4.4px;line-height:4.4px;color:#555;transform:translateX(-50%);">6am</span>
<span class="t" style="left:556.10px;top:407.95px;font-size:4.4px;line-height:4.4px;color:#555;transform:translateX(-50%);">7am</span>
<span class="t" style="left:570.60px;top:407.95px;font-size:4.4px;line-height:4.4px;color:#555;transform:translateX(-50%);">8am</span>
<span class="t" style="left:585.10px;top:407.95px;font-size:4.4px;line-height:4.4px;color:#555;transform:translateX(-50%);">9am</span>
<span class="t" style="left:599.60px;top:407.95px;font-size:4.4px;line-height:4.4px;color:#555;transform:translateX(-50%);">10am</span>
<span class="t" style="left:614.10px;top:407.95px;font-size:4.4px;line-height:4.4px;color:#555;transform:translateX(-50%);">11am</span>
<span class="t" style="left:628.60px;top:407.95px;font-size:4.4px;line-height:4.4px;color:#555;transform:translateX(-50%);">12pm</span>
<span class="t" style="left:643.10px;top:407.95px;font-size:4.4px;line-height:4.4px;color:#555;transform:translateX(-50%);">1pm</span>
<span class="t" style="left:657.60px;top:407.95px;font-size:4.4px;line-height:4.4px;color:#555;transform:translateX(-50%);">2pm</span>
<span class="t" style="left:672.10px;top:407.95px;font-size:4.4px;line-height:4.4px;color:#555;transform:translateX(-50%);">3pm</span>
<span class="t" style="left:686.60px;top:407.95px;font-size:4.4px;line-height:4.4px;color:#555;transform:translateX(-50%);">4pm</span>
<span class="t" style="left:701.10px;top:407.95px;font-size:4.4px;line-height:4.4px;color:#555;transform:translateX(-50%);">5pm</span>
<span class="t" style="left:715.60px;top:407.95px;font-size:4.4px;line-height:4.4px;color:#555;transform:translateX(-50%);">6pm</span>
<span class="t" style="left:730.10px;top:407.95px;font-size:4.4px;line-height:4.4px;color:#555;transform:translateX(-50%);">7pm</span>
<span class="t" style="left:744.60px;top:407.95px;font-size:4.4px;line-height:4.4px;color:#555;transform:translateX(-50%);">8pm</span>
<span class="t" style="left:759.10px;top:407.95px;font-size:4.4px;line-height:4.4px;color:#555;transform:translateX(-50%);">9pm</span>
<span class="t" style="left:773.60px;top:407.95px;font-size:4.4px;line-height:4.4px;color:#555;transform:translateX(-50%);">10pm</span>
<span class="t" style="left:788.10px;top:407.95px;font-size:4.4px;line-height:4.4px;color:#555;transform:translateX(-50%);">11pm</span>
<span class="t" style="left:802.60px;top:407.95px;font-size:4.4px;line-height:4.4px;color:#555;transform:translateX(-50%);">12pm</span>
<span class="t" style="left:454.00px;top:426.61px;font-size:5.1px;line-height:5.1px;color:#9a9ea6;">Total Generation</span><span class="t" style="left:454.00px;top:431.31px;font-size:9.2px;line-height:9.2px;color:#3f4667;font-weight:700;">66.3 <span style="font-size:6.2px">kW</span></span><svg style="left:493.30px;top:435.40px" width="2.6" height="2.6" viewBox="0 0 2.6 2.6"><path d="M0 0 H2.6 L1.3 2.2 Z" fill="#f4a26f"/></svg><div style="position:absolute;left:504.8px;top:424.7px;width:0px;height:15px;border-left:1px dashed #e3e3e3;"></div>
<span class="t" style="left:513.00px;top:426.61px;font-size:5.1px;line-height:5.1px;color:#9a9ea6;">Facility A</span><span class="t" style="left:513.00px;top:431.31px;font-size:9.2px;line-height:9.2px;color:#3f4667;font-weight:700;">5.8 <span style="font-size:6.2px">kWh</span></span><svg style="left:547.50px;top:435.40px" width="2.6" height="2.6" viewBox="0 0 2.6 2.6"><path d="M0 0 H2.6 L1.3 2.2 Z" fill="#f4a26f"/></svg><div style="position:absolute;left:559.8px;top:424.7px;width:0px;height:15px;border-left:1px dashed #e3e3e3;"></div>
<span class="t" style="left:567.00px;top:426.61px;font-size:5.1px;line-height:5.1px;color:#9a9ea6;">Facility B</span><span class="t" style="left:567.00px;top:431.31px;font-size:9.2px;line-height:9.2px;color:#3f4667;font-weight:700;">2.1 <span style="font-size:6.2px">kWh</span></span><svg style="left:601.70px;top:435.40px" width="2.6" height="2.6" viewBox="0 0 2.6 2.6"><path d="M0 0 H2.6 L1.3 2.2 Z" fill="#f4a26f"/></svg><div style="position:absolute;left:613px;top:424.7px;width:0px;height:15px;border-left:1px dashed #e3e3e3;"></div>
<span class="t" style="left:621.50px;top:426.61px;font-size:5.1px;line-height:5.1px;color:#9a9ea6;">Facility C</span><span class="t" style="left:621.50px;top:431.31px;font-size:9.2px;line-height:9.2px;color:#3f4667;font-weight:700;">1.9 <span style="font-size:6.2px">kW</span></span><svg style="left:655.70px;top:435.40px" width="2.6" height="2.6" viewBox="0 0 2.6 2.6"><path d="M0 0 H2.6 L1.3 2.2 Z" fill="#f4a26f"/></svg><div style="position:absolute;left:667px;top:424.7px;width:0px;height:15px;border-left:1px dashed #e3e3e3;"></div>
<span class="t" style="left:399.00px;top:478.15px;font-size:4.4px;line-height:4.4px;color:#555;transform:translateX(-100%);">3000</span>
<div style="position:absolute;left:405.5px;top:477.6px;width:5.5px;height:2.8px;background:#9ccc7a;"></div>
<svg style="left:342.00px;top:479.00px" width="8" height="11" viewBox="0 0 8 11"><path d="M1 4 A3 3 0 0 1 7 4 V11" fill="none" stroke="#e6e6e6" stroke-width="0.8"/></svg>
<div class="a" style="left:441.40px;top:462.10px;width:7.2px;height:7.2px;border-radius:50%;background:#6d7482;color:#fff;font:italic bold 5.5px/7.2px 'Liberation Serif',serif;text-align:center;">i</div>
<span class="t" style="left:455.00px;top:464.16px;font-size:5.2px;line-height:5.2px;color:#8b8f96;">Actual vs Predicted Energy</span>
<div style="position:absolute;left:675.4px;top:461.3px;width:65.2px;height:10px;box-sizing:border-box;border:1px solid #e7e7e7;border-radius:5.0px;background:#fff;"></div><div style="position:absolute;left:696.9px;top:461.8px;width:1px;height:9px;background:#e7e7e7;"></div><div style="position:absolute;left:718.1px;top:461.8px;width:1px;height:9px;background:#e7e7e7;"></div><span class="t" style="left:686.40px;top:465.20px;font-size:4.3px;line-height:4.3px;color:#333;font-weight:700;transform:translateX(-50%);">Month</span><span class="t" style="left:708.00px;top:465.20px;font-size:4.3px;line-height:4.3px;color:#b5b5b5;transform:translateX(-50%);">Year</span><span class="t" style="left:729.60px;top:465.20px;font-size:4.3px;line-height:4.3px;color:#b5b5b5;transform:translateX(-50%);">Total</span>
<span class="t" style="left:732.50px;top:479.15px;font-size:4.4px;line-height:4.4px;color:#555;transform:translateX(-100%);">3000 kWh</span>
<div style="position:absolute;left:454.2px;top:478px;width:0.8px;height:12px;background:#d4d4d4;"></div>
<div style="position:absolute;left:549.5px;top:486.5px;width:1px;height:3.5px;background:#d2d5da;"></div>
<div style="position:absolute;left:571.5px;top:485.5px;width:1px;height:4.5px;background:#d2d5da;"></div>
<div style="position:absolute;left:591.5px;top:483px;width:1px;height:7px;background:#d2d5da;"></div>
<div style="position:absolute;left:613.5px;top:486.5px;width:1px;height:3.5px;background:#d2d5da;"></div>
<div style="position:absolute;left:633.5px;top:488px;width:1px;height:2px;background:#d2d5da;"></div>
<div class="a" style="left:758.40px;top:462.10px;width:7.2px;height:7.2px;border-radius:50%;background:#6d7482;color:#fff;font:italic bold 5.5px/7.2px 'Liberation Serif',serif;text-align:center;">i</div>
<span class="t" style="left:773.00px;top:464.16px;font-size:5.2px;line-height:5.2px;color:#8b8f96;">Avoided Carbon</span>
<div style="position:absolute;left:820px;top:461px;width:26px;height:10.2px;box-sizing:border-box;border:1px solid #e2e2e2;border-radius:5.1px;"></div>
<span class="t" style="left:830.50px;top:465.00px;font-size:4.3px;line-height:4.3px;color:#333;font-weight:700;transform:translateX(-50%);">Month</span>
<svg style="left:839.50px;top:465.20px" width="3" height="2" viewBox="0 0 3 2"><path d="M0.3 0.3 L1.5 1.5 L2.7 0.3" fill="none" stroke="#bbb" stroke-width="0.5"/></svg>
<svg style="left:792.00px;top:477.00px" width="50" height="14" viewBox="0 0 50 14"><path d="M2 13 C8 5 18 1 30 2 M33 3 A4 4 0 1 1 41 4 M43 6 C46 8 48 10 49 13" fill="none" stroke="#e8e8e8" stroke-width="0.8"/></svg>
</div>
<div style="position:absolute;left:85px;top:400px;width:257.5px;height:318px;background:#fff;border-radius:4px;box-shadow:0 14px 34px rgba(20,24,50,.36),0 2px 6px rgba(20,24,50,.12);"></div>
<div style="position:absolute;left:85.4px;top:406px;width:2.2px;height:46px;background:#e6e6e3;"></div>
<div class="a" style="left:101.20px;top:421.40px;width:13.6px;height:13.6px;border-radius:50%;background:#8a949e;color:#fff;font:italic bold 10.5px/13.6px 'Liberation Serif',serif;text-align:center;">i</div>
<span class="t" style="left:127.30px;top:423.86px;font-size:9.9px;line-height:9.9px;color:#8d9298;">Energy by Sun-Hours</span>
<svg style="left:93.00px;top:452.80px" width="20.700000000000003" height="8" viewBox="0 0 20.700000000000003 8"><path d="M0.5 4 H20.700000000000003 M4 0.8 L0.5 4 L4 7.2" fill="none" stroke="#c9c9c9" stroke-width="0.9"/></svg>
<span class="t" style="left:211.00px;top:452.60px;font-size:8.8px;line-height:8.8px;color:#a0a4a9;transform:translateX(-50%);">March 2014</span>
<svg style="left:310.00px;top:452.80px" width="20.600000000000023" height="8" viewBox="0 0 20.600000000000023 8"><path d="M0 4 H20.100000000000023 M16.600000000000023 0.8 L20.100000000000023 4 L16.600000000000023 7.2" fill="none" stroke="#c9c9c9" stroke-width="0.9"/></svg>
<span class="t" style="left:130.80px;top:488.39px;font-size:7.4px;line-height:7.4px;color:#8d9298;transform:translateX(-50%);">S</span>
<span class="t" style="left:130.80px;top:512.84px;font-size:7.4px;line-height:7.4px;color:#8d9298;transform:translateX(-50%);">M</span>
<span class="t" style="left:130.80px;top:537.29px;font-size:7.4px;line-height:7.4px;color:#8d9298;transform:translateX(-50%);">T</span>
<span class="t" style="left:130.80px;top:561.74px;font-size:7.4px;line-height:7.4px;color:#8d9298;transform:translateX(-50%);">W</span>
<span class="t" style="left:130.80px;top:586.19px;font-size:7.4px;line-height:7.4px;color:#8d9298;transform:translateX(-50%);">T</span>
<span class="t" style="left:130.80px;top:610.64px;font-size:7.4px;line-height:7.4px;color:#8d9298;transform:translateX(-50%);">F</span>
<span class="t" style="left:130.80px;top:635.09px;font-size:7.4px;line-height:7.4px;color:#8d9298;transform:translateX(-50%);">S</span>
<svg style="left:151.20px;top:480.00px" width="123" height="171" viewBox="0 0 123 171"><rect x="24.45" y="0.00" width="23.5" height="23.5" fill="rgb(236,181,150)"/><rect x="48.90" y="0.00" width="23.5" height="23.5" fill="rgb(236,175,141)"/><rect x="73.35" y="0.00" width="23.5" height="23.5" fill="rgb(235,187,159)"/><rect x="97.80" y="0.00" width="23.5" height="23.5" fill="rgb(235,197,174)"/><rect x="24.45" y="24.45" width="23.5" height="23.5" fill="rgb(236,167,129)"/><rect x="48.90" y="24.45" width="23.5" height="23.5" fill="rgb(237,143,92)"/><rect x="73.35" y="24.45" width="23.5" height="23.5" fill="rgb(236,167,129)"/><rect x="97.80" y="24.45" width="23.5" height="23.5" fill="rgb(237,160,118)"/><rect x="24.45" y="48.90" width="23.5" height="23.5" fill="rgb(236,177,144)"/><rect x="48.90" y="48.90" width="23.5" height="23.5" fill="rgb(236,167,129)"/><rect x="73.35" y="48.90" width="23.5" height="23.5" fill="rgb(237,155,111)"/><rect x="97.80" y="48.90" width="23.5" height="23.5" fill="rgb(238,129,72)"/><rect x="24.45" y="73.35" width="23.5" height="23.5" fill="rgb(236,181,150)"/><rect x="48.90" y="73.35" width="23.5" height="23.5" fill="rgb(235,187,159)"/><rect x="73.35" y="73.35" width="23.5" height="23.5" fill="rgb(236,167,129)"/><rect x="97.80" y="73.35" width="23.5" height="23.5" fill="rgb(237,155,111)"/><rect x="0.00" y="97.80" width="23.5" height="23.5" fill="rgb(237,143,92)"/><rect x="24.45" y="97.80" width="23.5" height="23.5" fill="rgb(236,167,129)"/><rect x="48.90" y="97.80" width="23.5" height="23.5" fill="rgb(236,175,141)"/><rect x="73.35" y="97.80" width="23.5" height="23.5" fill="rgb(237,152,107)"/><rect x="97.80" y="97.80" width="23.5" height="23.5" fill="rgb(236,175,141)"/><rect x="0.00" y="122.25" width="23.5" height="23.5" fill="rgb(237,155,111)"/><rect x="24.45" y="122.25" width="23.5" height="23.5" fill="rgb(237,150,104)"/><rect x="48.90" y="122.25" width="23.5" height="23.5" fill="rgb(236,167,129)"/><rect x="73.35" y="122.25" width="23.5" height="23.5" fill="rgb(236,165,126)"/><rect x="97.80" y="122.25" width="23.5" height="23.5" fill="rgb(236,175,141)"/><rect x="0.00" y="146.70" width="23.5" height="23.5" fill="rgb(236,181,150)"/><rect x="24.45" y="146.70" width="23.5" height="23.5" fill="rgb(236,172,137)"/><rect x="48.90" y="146.70" width="23.5" height="23.5" fill="rgb(236,172,137)"/><rect x="73.35" y="146.70" width="23.5" height="23.5" fill="rgb(236,175,141)"/><rect x="97.80" y="146.70" width="23.5" height="23.5" fill="rgb(236,177,144)"/></svg>
<span class="t" style="left:100.60px;top:669.36px;font-size:9.5px;line-height:9.5px;color:#9a9ea4;">Total in 2014</span>
<span class="t" style="left:100.20px;top:680.87px;font-size:15.2px;line-height:15.2px;color:#474d69;font-weight:700;transform:scaleX(1.075);transform-origin:0 50%;">450 Hours</span>
<div style="position:absolute;left:404px;top:400px;width:196px;height:195px;background:#fff;border-radius:4px;box-shadow:0 14px 34px rgba(20,24,50,.36),0 2px 6px rgba(20,24,50,.12);"></div>
<div style="position:absolute;left:404.4px;top:405px;width:2.2px;height:43px;background:#e6e6e3;"></div>
<div class="a" style="left:420.50px;top:420.60px;width:13.6px;height:13.6px;border-radius:50%;background:#8a949e;color:#fff;font:italic bold 10.5px/13.6px 'Liberation Serif',serif;text-align:center;">i</div>
<span class="t" style="left:446.80px;top:422.76px;font-size:9.9px;line-height:9.9px;color:#8d9298;">Avoided Carbon</span>
<div style="position:absolute;left:532.5px;top:419.8px;width:52.5px;height:17.4px;box-sizing:border-box;border:1px solid #dedede;border-radius:8.7px;"></div>
<span class="t" style="left:542.60px;top:424.35px;font-size:8.7px;line-height:8.7px;color:#333;-webkit-text-stroke:0.4px #333;">Month</span>
<svg style="left:571.50px;top:427.00px" width="6" height="4" viewBox="0 0 6 4"><path d="M0.5 0.5 L3 3 L5.5 0.5" fill="none" stroke="#c4c4c4" stroke-width="0.8"/></svg>
<svg style="left:440.00px;top:445.00px" width="140" height="125" viewBox="0 0 140 125"><path d="M39.40 106.26 A49 49 0 1 1 89.09 21.91" fill="none" stroke="#e3e3e3" stroke-width="0.9"/><path d="M104.84 38.50 A49 49 0 0 1 50.55 110.54" fill="none" stroke="#e3e3e3" stroke-width="0.9" stroke-dasharray="3 2.2"/><circle cx="25.69999999999999" cy="30.30000000000001" r="7.6" fill="#fff" stroke="#dcdcdc" stroke-width="0.9"/><path d="M25.19999999999999 27.30000000000001 V31.30000000000001 H27.80000000000001" fill="none" stroke="#d2d2d2" stroke-width="0.9"/><g transform="translate(81.5,11.5)"><path d="M4.5 17.5 L4.2 14.6 C1.2 14 0.2 10.6 2.6 8.8 C1.4 5.2 5.4 2.8 8 4.4 C9.4 0.6 15.6 0 17.6 3.6 C21.4 2 25.6 4.6 24.4 8.6 C27.6 10 27 15 23.2 15.2 L23.6 18 L20.4 15.4 H7.6 Z" fill="#fff" stroke="#dcdcdc" stroke-width="0.9" stroke-linejoin="round"/></g><g transform="translate(27,92.5)"><path d="M1.2 1.2 C9 0.8 15.6 4 16.6 10.6 C16.9 13 16.4 14.6 15.6 15.6 C10.4 16.6 4.4 13.4 2.2 7.6 C1.4 5.4 1.2 3.2 1.2 1.2 Z M6 6.4 C10.4 9.6 14.4 14 17.4 20" fill="#fff" stroke="#dcdcdc" stroke-width="0.9" stroke-linejoin="round" stroke-linecap="round"/></g></svg>
<span class="t" style="left:534.90px;top:466.39px;font-size:7.6px;line-height:7.6px;color:#d0d0d0;font-weight:700;transform:translateX(-50%);">CO<span style="font-size:4.5px;position:relative;top:1.6px">2</span></span>
<span class="t" style="left:469.70px;top:492.19px;font-size:33.8px;line-height:33.8px;color:#ee7d3b;font-weight:700;transform:scaleX(1.072);transform-origin:0 50%;">54.7</span>
<span class="t" style="left:543.60px;top:490.95px;font-size:13.4px;line-height:13.4px;color:#ee7d3b;font-weight:700;transform:scaleX(1.07);transform-origin:0 50%;">lbs</span>
<span class="t" style="left:503.10px;top:572.46px;font-size:9.7px;line-height:9.7px;color:#84898f;transform:translateX(-50%);">Total: 3,456 kg</span>
<div style="position:absolute;left:192px;top:619.6px;width:391px;height:194.8px;background:#fff;border-radius:4px;box-shadow:0 14px 34px rgba(20,24,50,.36),0 2px 6px rgba(20,24,50,.12);"></div>
<div style="position:absolute;left:192.4px;top:625px;width:2.2px;height:38px;background:#e6e6e3;"></div>
<div class="a" style="left:207.90px;top:640.10px;width:13.6px;height:13.6px;border-radius:50%;background:#8a949e;color:#fff;font:italic bold 10.5px/13.6px 'Liberation Serif',serif;text-align:center;">i</div>
<span class="t" style="left:233.90px;top:642.26px;font-size:9.9px;line-height:9.9px;color:#8d9298;">Equivalencies</span>
<div style="position:absolute;left:445.3px;top:640px;width:123px;height:17.2px;box-sizing:border-box;border:1px solid #dedede;border-radius:8.6px;"></div>
<div style="position:absolute;left:485.8px;top:640.5px;width:1px;height:16.2px;background:#dedede;"></div>
<div style="position:absolute;left:526.5px;top:640.5px;width:1px;height:16.2px;background:#dedede;"></div>
<span class="t" style="left:465.70px;top:644.55px;font-size:8.7px;line-height:8.7px;color:#333;transform:translateX(-50%);-webkit-text-stroke:0.4px #333;">Month</span>
<span class="t" style="left:506.40px;top:644.70px;font-size:8.4px;line-height:8.4px;color:#b8b8b8;transform:translateX(-50%);">Year</span>
<span class="t" style="left:547.40px;top:644.70px;font-size:8.4px;line-height:8.4px;color:#b8b8b8;transform:translateX(-50%);">Total</span>
<svg style="left:240.00px;top:677.50px" width="300" height="80" viewBox="0 0 300 80"><path d="M23.6 71 A37 37 0 0 1 38 0.5 H259 A37 37 0 0 1 274.6 69.6" fill="none" stroke="#dddddd" stroke-width="0.9"/><path d="M103.3 0.5 V73.5 M95.3 73.5 H111.3 M194 0.5 V73.5 M186 73.5 H202" fill="none" stroke="#c8c8c8" stroke-width="0.9"/></svg>
<span class="t" style="left:270.60px;top:696.01px;font-size:27px;line-height:27px;color:#ee7d3b;font-weight:700;transform:scaleX(1.09);transform-origin:0 50%;">0.32</span>
<span class="t" style="left:389.30px;top:696.01px;font-size:27px;line-height:27px;color:#ee7d3b;font-weight:700;transform:translateX(-50%) scaleX(1.09);transform-origin:50% 50%;">2</span>
<span class="t" style="left:462.00px;top:696.01px;font-size:27px;line-height:27px;color:#ee7d3b;font-weight:700;transform:scaleX(1.1);transform-origin:0 50%;">2.3</span>
<span class="t" style="left:463.20px;top:722.25px;font-size:8.3px;line-height:8.3px;color:#7f8791;font-weight:700;">Millions</span>
<span class="t" style="left:276.20px;top:745.10px;font-size:8.4px;line-height:8.4px;color:#9c9c9c;transform:translateX(-50%);">x</span>
<span class="t" style="left:364.40px;top:745.10px;font-size:8.4px;line-height:8.4px;color:#9c9c9c;transform:translateX(-50%);">x</span>
<span class="t" style="left:457.30px;top:745.10px;font-size:8.4px;line-height:8.4px;color:#9c9c9c;transform:translateX(-50%);">x</span>
<svg style="left:286.60px;top:742.40px" width="35" height="22" viewBox="0 0 35 22"><path d="M3.6 17.4 H2.4 C1.4 17.4 0.8 16.6 0.8 15.6 L0.6 11.6 C0.6 9.6 1.2 8.4 2.4 7.2 L6.2 2.8 C7 1.8 8 1.4 9.2 1.3 L20.6 0.9 C22.2 0.9 23.4 1.6 24.4 2.8 L27 5.8 L31.6 9 C32.8 9.8 33.4 11 33.4 12.4 V15.6 C33.4 16.6 32.8 17.4 31.8 17.4 H29.6 M12 17.4 H21.2" fill="none" stroke="#7f8791" stroke-width="1.25" stroke-linecap="round" stroke-linejoin="round"/><circle cx="7.8" cy="17.2" r="3.6" fill="none" stroke="#7f8791" stroke-width="1.25"/><circle cx="25.4" cy="17.2" r="3.6" fill="none" stroke="#7f8791" stroke-width="1.25"/></svg>
<svg style="left:375.20px;top:735.20px" width="33" height="31" viewBox="0 0 33 31"><path d="M0.9 14.9 L15.8 0.8 L31.7 14.9 M5.8 11 V28 C5.8 29.2 6.4 29.8 7.6 29.8 H24 C25.2 29.8 25.8 29.2 25.8 28 V10.2 M5.8 9.6 V2 H9.8 V5.6" fill="none" stroke="#7f8791" stroke-width="1.3" stroke-linecap="round" stroke-linejoin="round"/><path d="M17.2 9.4 L12.6 17.4 H16.6 L14.4 23.6 L19.4 15.6 H15.6 Z" fill="none" stroke="#8a93a0" stroke-width="0.9" stroke-linejoin="round"/></svg>
<svg style="left:464.60px;top:738.60px" width="35" height="27" viewBox="0 0 35 27"><path d="M17.8 21.4 C11 21.6 5.6 18 3.6 11.5 C2.6 8 1.8 5 1.4 2.4 C5 2.2 9 3 12.2 5 C17 8.2 19 14 17.8 21.4 Z M17.4 20.2 C15.5 15 12.5 11 8.6 8 M19.6 21 C19.4 16 22 12.6 26.4 11.2 C28.6 10.4 31 10 33.4 9.8 C33.2 13 32 16.4 29.4 18.6 C26.8 20.8 23.2 21.4 19.6 21 Z M20.2 20.4 C23 17.6 26 15.2 29.4 13.6 M18.5 21.2 V25.8" fill="none" stroke="#7f8791" stroke-width="1.25" stroke-linecap="round" stroke-linejoin="round"/></svg>
<span class="t" style="left:302.90px;top:775.41px;font-size:9.8px;line-height:9.8px;color:#8d9298;transform:translateX(-50%);">Cars Removed</span>
<span class="t" style="left:390.00px;top:775.41px;font-size:9.8px;line-height:9.8px;color:#8d9298;transform:translateX(-50%);">Homes Powered</span>
<span class="t" style="left:485.00px;top:775.41px;font-size:9.8px;line-height:9.8px;color:#8d9298;transform:translateX(-50%);">Seedlings Grown</span>
</div></body></html>
